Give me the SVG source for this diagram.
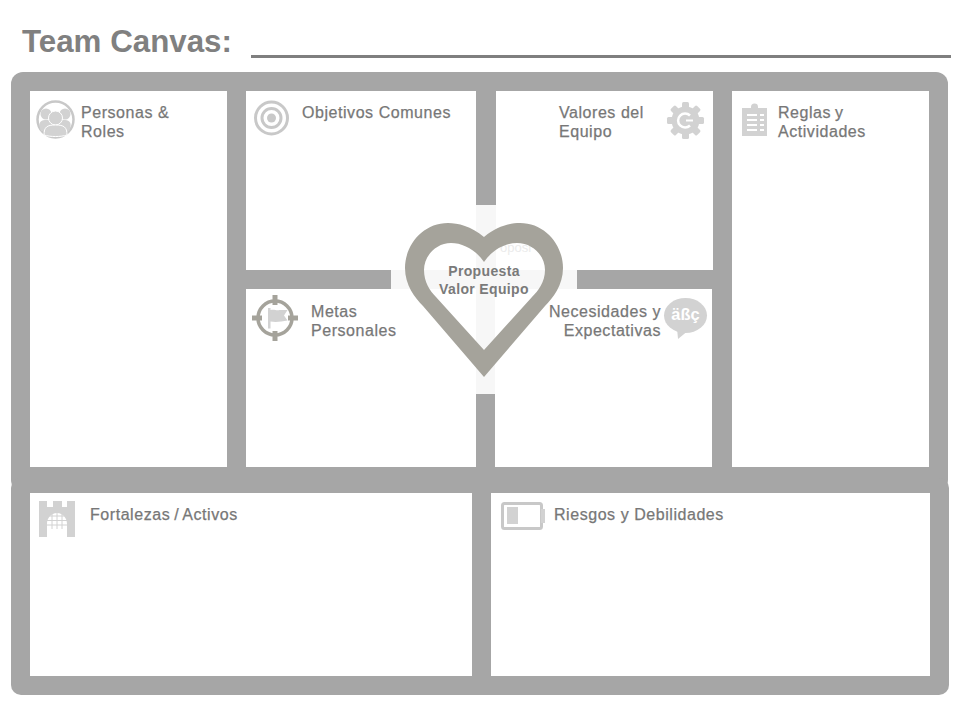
<svg xmlns="http://www.w3.org/2000/svg" width="960" height="720" viewBox="0 0 960 720">
<style>
.t{font-family:"Liberation Sans",Arial,sans-serif;font-size:16px;fill:#777;stroke:#777;stroke-width:.25px;letter-spacing:.55px}
.h{font-size:14px;letter-spacing:.35px;font-weight:bold;stroke:none;fill:#7a7a7a}
.p{fill:#fff}
.i{fill:#d2d2d2}
.l{fill:none;stroke:#c8c8c8}
.w{fill:#a5a39b}
</style>
<rect width="960" height="720" fill="#fff"/>
<text x="22" y="52" font-family="'Liberation Sans',Arial,sans-serif" font-size="31.300" font-weight="bold" fill="#808080">Team Canvas:</text>
<rect x="251" y="55" width="700" height="3" fill="#7f7f7f"/>
<g id="frame">
<rect x="11" y="72" width="937" height="420" rx="12" fill="#a6a6a6"/>
<rect x="11" y="478" width="938" height="217" rx="10" fill="#a6a6a6"/>
</g>
<g id="centre-cross" fill="#f7f7f7">
<rect x="476" y="205" width="20" height="189"/>
<rect x="391" y="270" width="186" height="19"/>
</g>
<g id="personas-roles">
<rect class="p" x="30" y="91" width="197" height="376"/>
<circle class="l" cx="55.500" cy="119.500" r="18" stroke-width="2.500"/>
<circle class="i" cx="46" cy="114" r="5.500"/><circle class="i" cx="65" cy="114" r="5.500"/>
<path class="i" d="M41 131c-3-6-2-11 4-11h20c6 0 7 5 4 11z"/>
<circle class="i" cx="55.500" cy="118" r="7" stroke="#fff"/>
<path class="i" stroke="#fff" d="M44 135c0-8 3-10 11.500-10s11.500 2 11.500 10c-6 2-17 2-23 0z"/>
<text class="t" x="81" y="118">Personas &amp;</text><text class="t" x="81" y="137">Roles</text>
</g>
<g id="objetivos-comunes">
<rect class="p" x="246" y="91" width="230" height="179"/>
<circle class="l" cx="271.500" cy="118" r="16" stroke-width="3"/>
<circle class="l" cx="271.500" cy="118" r="9.500" stroke-width="3"/>
<circle cx="271.500" cy="118" r="4.500" fill="#c8c8c8"/>
<text class="t" x="302" y="118">Objetivos Comunes</text>
</g>
<g id="valores-equipo">
<rect class="p" x="496" y="91" width="217" height="179"/>
<g class="i">
<circle cx="685.500" cy="120.500" r="14"/>
<rect x="682" y="102" width="7" height="37" rx="1.500"/>
<rect x="682" y="102" width="7" height="37" rx="1.500" transform="rotate(45 685.500 120.500)"/>
<rect x="682" y="102" width="7" height="37" rx="1.500" transform="rotate(90 685.500 120.500)"/>
<rect x="682" y="102" width="7" height="37" rx="1.500" transform="rotate(135 685.500 120.500)"/>
</g>
<path fill="none" stroke="#fff" stroke-width="2.500" d="M690 115.500a7 7 0 1 0 0 10"/>
<path fill="#fff" d="M686 119.500h7v2h-7z"/>
<text class="t" x="559" y="118">Valores del</text><text class="t" x="559" y="137">Equipo</text>
</g>
<g id="reglas-actividades">
<rect class="p" x="732" y="91" width="197" height="376"/>
<path class="i" fill-rule="evenodd" d="M742 108h9v-1a3.500 3.500 0 0 1 7 0v1h9v28h-25zM747 114v2h10v-2zM747 119v2h10v-2zM747 124v2h10v-2zM747 129v2h10v-2zM760 114v2h4v-2zM760 119v2h4v-2zM760 124v2h4v-2zM760 129v2h4v-2z"/>
<text class="t" x="778" y="118" word-spacing="-1">Reglas y</text><text class="t" x="778" y="137">Actividades</text>
</g>
<g id="metas-personales">
<rect class="p" x="246" y="289" width="230" height="178"/>
<circle cx="275" cy="318" r="17" fill="none" stroke="#a5a39b" stroke-width="3.500"/>
<path class="w" d="M272.500 295h5v10h-5zM272.500 331h5v10h-5zM252 315.500h10v5h-10zM288 315.500h10v5h-10z"/>
<path class="i" d="M268 308h2.500v2c4-1 6 1 9 0l8 0-3.500 5.500 3.500 5c-6 1-11 2-17 1v7h-2.500z"/>
<text class="t" x="311" y="317">Metas</text><text class="t" x="311" y="336">Personales</text>
</g>
<g id="necesidades-expectativas">
<rect class="p" x="495" y="289" width="217" height="178"/>
<ellipse class="i" cx="685.500" cy="315.500" rx="21.500" ry="17.500"/>
<path class="i" d="M677 328l1 11 11-9z"/>
<text x="685.500" y="320" text-anchor="middle" font-family="'Liberation Sans',Arial,sans-serif" font-size="16.500" font-weight="bold" fill="#fff">äßç</text>
<text class="t" x="661" y="317" text-anchor="end">Necesidades y</text><text class="t" x="661" y="336" text-anchor="end">Expectativas</text>
</g>
<g id="fortalezas-activos">
<rect class="p" x="30" y="493" width="442" height="183"/>
<path class="i" fill-rule="evenodd" d="M39 501h8v6h6v-6h9v6h5v-6h8v36h-8v-13c0-6-4-11-10-11s-10 5-10 11v13h-8z"/>
<path d="M47 516h20M47 520.500h20M47 525h20M52 513v16M57 513v16M62 513v16" stroke="#d2d2d2" fill="none"/>
<text class="t" x="90" y="520" word-spacing="-1">Fortalezas / Activos</text>
</g>
<g id="riesgos-debilidades">
<rect class="p" x="491" y="493" width="439" height="183"/>
<rect class="l" x="502.500" y="503.500" width="39" height="25" rx="2" stroke-width="3"/>
<rect class="i" x="507" y="507" width="11" height="17"/>
<path class="i" d="M541 509h4v14h-4z"/>
<text class="t" x="554" y="520">Riesgos y Debilidades</text>
</g>
<g id="propuesta-valor">
<text x="500" y="251.500" font-family="'Liberation Sans',Arial,sans-serif" font-size="13" fill="#ebebeb">oposi</text>
<path class="w" fill-rule="evenodd" d="M484 237C497 226 510 223 520 223C545 223 563 245 563 268C563 285 553 298 545 306L484 377L423 306C415 298 405 285 405 268C405 245 423 223 448 223C458 223 471 226 484 237ZM484 262C492 250 505 243 517 243C533 243 545 256 545 270C545 282 538 291 532 297L484 350L436 297C430 291 424 282 424 270C424 256 436 243 451 243C463 243 476 250 484 262Z"/>
<text class="t h" x="484" y="276" text-anchor="middle">Propuesta</text>
<text class="t h" x="484" y="294" text-anchor="middle">Valor Equipo</text>
</g>
</svg>
